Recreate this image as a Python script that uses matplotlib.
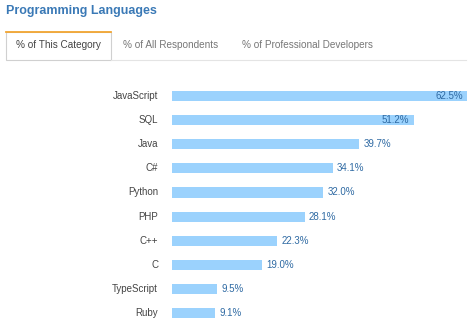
import matplotlib.pyplot as plt
from matplotlib.patches import Rectangle
from matplotlib.lines import Line2D

languages = ["JavaScript", "SQL", "Java", "C#", "Python", "PHP", "C++", "C", "TypeScript", "Ruby"]
shares = [62.5, 51.2, 39.7, 34.1, 32.0, 28.1, 22.3, 19.0, 9.5, 9.1]
tabs = ["% of This Category", "% of All Respondents", "% of Professional Developers"]

plt.rcParams["font.family"] = ["Liberation Sans", "DejaVu Sans"]

W, H = 474, 322
fig = plt.figure(figsize=(W / 100, H / 100), dpi=100)
fig.patch.set_facecolor("white")

def fx(x):
    return x / W

def fy(y):
    return 1 - y / H

# header
fig.text(fx(6), fy(11), "Programming Languages", fontsize=9.0, fontweight="bold",
         color="#3a79b6", ha="left", va="center")

# tab strip
fig.add_artist(Line2D([fx(111), fx(466)], [fy(60), fy(60)], color="#e4e4e4", lw=0.8))
fig.add_artist(Rectangle((fx(6), fy(60)), fx(105), 28 / H, facecolor="white",
                         edgecolor="#d0d0d0", lw=0.8))
fig.add_artist(Line2D([fx(6), fx(111)], [fy(32), fy(32)], color="#f2a531", lw=1.3))
tab_x = [58, 171, 307]
for t, x, c in zip(tabs, tab_x, ["#444444", "#777777", "#777777"]):
    fig.text(fx(x), fy(45), t, fontsize=7.2, color=c, ha="center", va="center")

# bar chart, x=0 at 172px, 4.72px per percent
ax = fig.add_axes([fx(172), 0, 1 - fx(172), (H - 84) / H])
ypos = list(range(len(languages)))
ax.barh(ypos, shares, height=0.42, color="#9bd2fd")
ax.set_xlim(0, (W - 172) / 4.72)
ax.set_ylim(9 + 9 / 24.1, -0.5)
ax.axis("off")

for y, lang, v in zip(ypos, languages, shares):
    ax.annotate(lang, (0, y), xytext=(-10, 0), textcoords="offset points",
                ha="right", va="center", fontsize=7.0, color="#444444")
    if v > 45:
        ax.annotate(f"{v:.1f}%", (v, y), xytext=(-3, 0), textcoords="offset points",
                    ha="right", va="center", fontsize=7.0, color="#2f6aa3")
    else:
        ax.annotate(f"{v:.1f}%", (v, y), xytext=(3, 0), textcoords="offset points",
                    ha="left", va="center", fontsize=7.0, color="#2f6aa3")

plt.savefig("out.png", dpi=100)
plt.close()
